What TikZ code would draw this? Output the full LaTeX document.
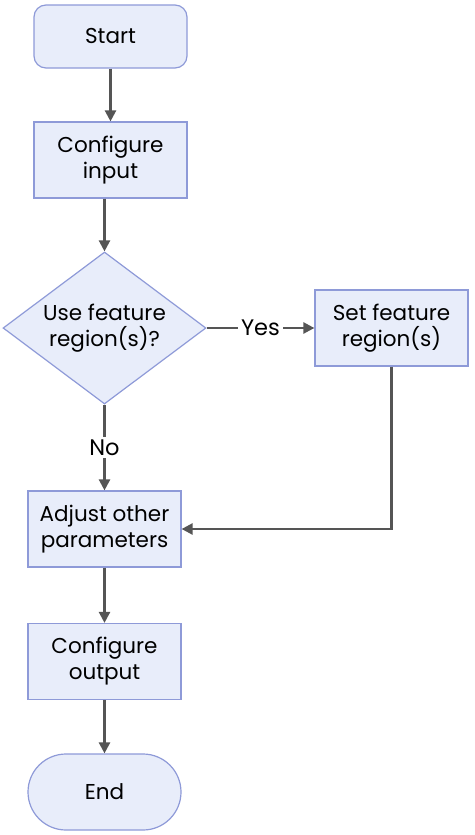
\documentclass[tikz,border=0pt]{standalone}
\usepackage{fontspec}
\setmainfont{Poppins}
\usetikzlibrary{arrows.meta,shapes.geometric,shapes.misc}
\definecolor{boxfill}{HTML}{E8EDFA}
\definecolor{boxline}{HTML}{8E9AD8}
\definecolor{arrowc}{HTML}{555555}
\tikzset{
  base/.style={draw=boxline,fill=boxfill,line width=1.2pt,align=center,font=\fontsize{21.5}{26}\selectfont,text=black,inner sep=0pt},
  procbox/.style={base,rectangle,minimum width=153pt,minimum height=76pt},
  startbox/.style={base,rectangle,rounded corners=12pt,minimum width=153pt,minimum height=63pt},
  endbox/.style={base,rounded rectangle,minimum width=153pt,minimum height=76pt},
  decbox/.style={base,diamond,minimum width=203pt,minimum height=152pt,aspect=1.34},
  conn/.style={draw=arrowc,line width=2.4pt,-{Triangle[length=11pt,width=11pt]}},
  lbl/.style={fill=white,inner sep=3pt,font=\fontsize{22.5}{26}\selectfont,text=black}
}
\begin{document}
\begin{tikzpicture}[x=1pt,y=-1pt]
\useasboundingbox (0,0) rectangle (474,835);
\node[startbox] (start) at (110.5,36.5) {Start};
\node[procbox] (cin) at (110.5,160) {Configure\\input};
\node[decbox] (dec) at (104.5,328) {Use feature\\region(s)?};
\node[procbox] (set) at (391.5,328) {Set feature\\region(s)};
\node[procbox] (adj) at (104.5,529) {Adjust other\\parameters};
\node[procbox] (cout) at (104.5,661.5) {Configure\\output};
\node[endbox] (end) at (104.5,792) {End};
\coordinate (turn) at (391.5,529);
\draw[conn] (start.south) -- (start.south |- cin.north);
\draw[conn] (dec.north |- cin.south) -- (dec.north);
\draw[conn] (dec.east) -- node[lbl] {Yes} (set.west);
\draw[conn] (dec.south) -- node[lbl] {No} (adj.north);
\draw[conn] (set.south) -- (turn) -- (adj.east);
\draw[conn] (adj.south) -- (cout.north);
\draw[conn] (cout.south) -- (end.north);
\end{tikzpicture}
\end{document}
